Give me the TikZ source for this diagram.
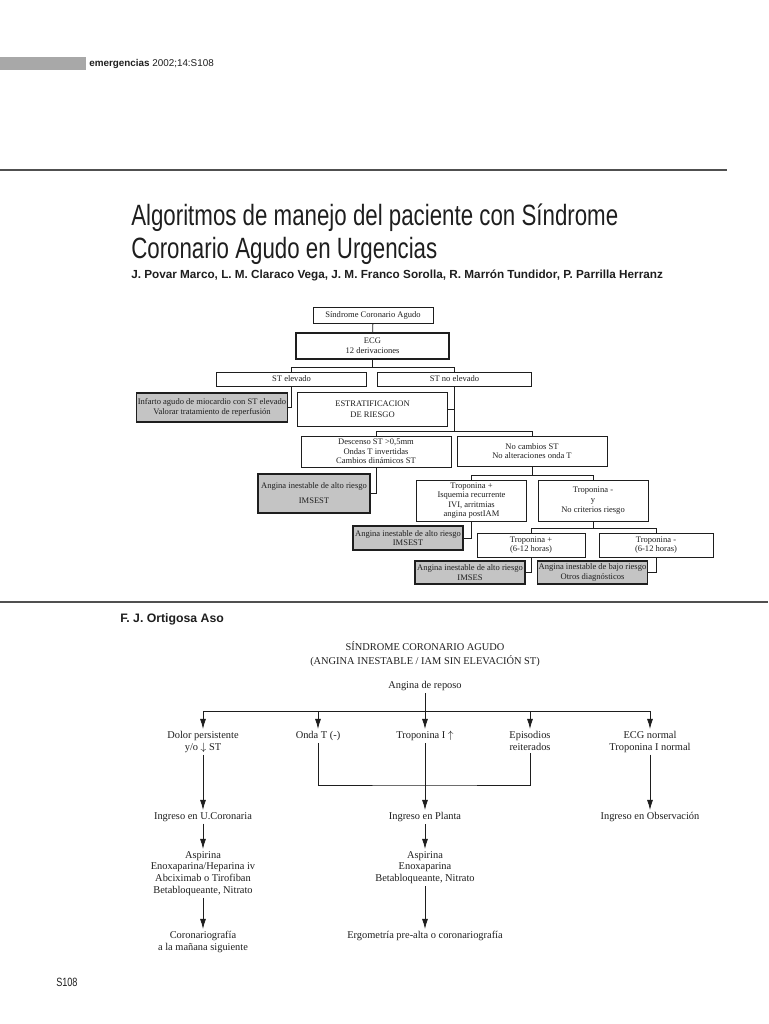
\documentclass[tikz,border=0pt]{standalone}
\usepackage{fontspec}
\setmainfont{Liberation Serif}
\newfontfamily\headsans{Liberation Sans}
\newfontfamily\titlesans[FakeStretch=0.76]{Liberation Sans}
\usetikzlibrary{arrows.meta,positioning,calc}
\definecolor{ink}{HTML}{1E1E1E}
\definecolor{riskgray}{HTML}{C4C4C4}
\definecolor{bargray}{HTML}{A8A8A8}
\definecolor{rulegray}{HTML}{505050}

\begin{document}
\begin{tikzpicture}[x=0.75pt,y=-0.75pt,
  box/.style={draw=ink,fill=white,line width=0.6pt,align=center,inner sep=1pt,
    font=\fontsize{6.4}{7.2}\selectfont,text=ink},
  wide/.style={box,minimum width=112.5pt},
  narrow/.style={box,minimum width=82.5pt},
  risk/.style={line width=1.2pt,fill=riskgray},
  link/.style={draw=ink,line width=0.6pt},
  txt/.style={align=center,inner sep=1.5pt,font=\fontsize{7.8}{8.8}\selectfont,text=ink},
  arrow/.style={-{Latex[length=2.7mm,width=1.6mm]},line width=0.6pt,draw=ink},
  rule/.style={draw=rulegray,line width=1.4pt}
]
\useasboundingbox (0,0) rectangle (768,1024);

\fill[bargray] (0,57) rectangle (86,70);
\node[anchor=base west,inner sep=0pt,font=\headsans\fontsize{7.4}{8}\selectfont,text=ink]
  (journal) at (89,67) {\textbf{emergencias} 2002;14:S108};
\draw[rule] (0,170) -- (727,170);
\node[anchor=base west,inner sep=0pt,font=\titlesans\fontsize{22}{25}\selectfont,text=ink]
  (title1) at (131,225) {Algoritmos de manejo del paciente con Síndrome};
\node[anchor=base west,inner sep=0pt,font=\titlesans\fontsize{22}{25}\selectfont,text=ink]
  (title2) at (131,258) {Coronario Agudo en Urgencias};
\node[anchor=base west,inner sep=0pt,font=\headsans\bfseries\fontsize{8.8}{10}\selectfont,text=ink]
  (authors) at (131,278)
  {J. Povar Marco, L. M. Claraco Vega, J. M. Franco Sorolla, R. Marrón Tundidor, P. Parrilla Herranz};

\node[box,minimum width=90pt,minimum height=12pt] (sca) at (373,315) {Síndrome Coronario Agudo};
\node[wide,minimum width=115pt,minimum height=19.5pt,line width=1.6pt] (ecg) at (372.5,346)
  {ECG\\12 derivaciones};
\node[wide,minimum height=10.5pt] (stel) at (291.5,379) {ST elevado};
\node[wide,minimum width=115pt,minimum height=10.5pt] (stne) at (454.5,379) {ST no elevado};
\node[wide,risk,minimum height=21.75pt] (inf) at (212,407.5)
  {Infarto agudo de miocardio con ST elevado\\Valorar tratamiento de reperfusión};
\node[wide,minimum width=112pt,minimum height=26pt] (estr) at (372.5,409.5)
  {ESTRATIFICACION\\[1pt]DE RIESGO};
\node[wide,minimum height=23.25pt] (desc) at (376,451.5)
  {Descenso ST >0,5mm\\Ondas T invertidas\\Cambios dinámicos ST};
\node[wide,minimum height=22.5pt] (noc) at (532,451) {No cambios ST\\No alteraciones onda T};
\node[narrow,risk,minimum width=84pt,minimum height=29.25pt] (ai1) at (314,493.5)
  {Angina inestable de alto riesgo\\[4pt]IMSEST};
\node[narrow,minimum height=30.75pt] (tpos) at (471.5,500.5)
  {Troponina +\\Isquemia recurrente\\IVI, arritmias\\angina postIAM};
\node[narrow,minimum height=30.75pt] (tneg) at (593,500.5) {Troponina -\\y\\No criterios riesgo};
\node[narrow,risk,minimum height=18pt] (ai2) at (408,538) {Angina inestable de alto riesgo\\IMSEST};
\node[narrow,minimum width=81pt,minimum height=18pt] (tpos6) at (531,545) {Troponina +\\(6-12 horas)};
\node[narrow,minimum width=85.5pt,minimum height=18pt] (tneg6) at (656,545) {Troponina -\\(6-12 horas)};
\node[narrow,risk,minimum height=17.25pt] (ai3) at (470,572.5) {Angina inestable de alto riesgo\\IMSES};
\node[narrow,risk,minimum width=81.75pt,minimum height=17.25pt] (ai4) at (592.5,572.5)
  {Angina inestable de bajo riesgo\\Otros diagnósticos};

\draw[link] (sca) -- (ecg);
\coordinate (busA) at ($(ecg.south)+(0,7)$);
\draw[link] (ecg.south) -- (busA);
\draw[link] (stel.north) |- (busA) -| (stne.north);
\draw[link] (stel.south) |- (inf.east);
\draw[link] (stne.south) |- (estr.east);
\coordinate (busB) at ($(stne.south)+(0,45)$);
\draw[link] (stne.south) -- (busB);
\draw[link] (desc.north) |- (busB) -| (noc.north);
\draw[link] (desc.south) |- (ai1.east);
\coordinate (busC) at ($(noc.south)+(0,9)$);
\draw[link] (noc.south) -- (busC);
\draw[link] (tpos.north) |- (busC) -| (tneg.north);
\draw[link] (tpos.south) |- (ai2.east);
\coordinate (busD) at ($(tneg.south)+(0,7)$);
\draw[link] (tneg.south) -- (busD);
\draw[link] (tpos6.north) |- (busD) -| (tneg6.north);
\draw[link] (tpos6.south) |- (ai3.east);
\draw[link] (tneg6.south) |- (ai4.east);

\draw[rule] (0,602) -- (768,602);
\node[anchor=base west,inner sep=0pt,font=\headsans\bfseries\fontsize{9.2}{10}\selectfont,text=ink]
  (author2) at (120,622) {F. J. Ortigosa Aso};

\node[txt] (t1) at (425,646) {SÍNDROME CORONARIO AGUDO};
\node[txt] (t2) at (425,661) {(ANGINA INESTABLE / IAM SIN ELEVACIÓN ST)};
\node[txt] (rep) at (425,686) {Angina de reposo};
\coordinate (busE) at (425,711);
\draw[link] (rep) -- (busE);

\node[txt,anchor=north] (dol) at (203,729) {Dolor persistente\\y/o $\downarrow$ ST};
\node[txt,anchor=north] (onda) at (318,729) {Onda T (-)};
\node[txt,anchor=north] (trop) at (425,729) {Troponina I $\uparrow$};
\node[txt,anchor=north] (epi) at (530,729) {Episodios\\reiterados};
\node[txt,anchor=north] (ecgn) at (650,729) {ECG normal\\Troponina I normal};
\draw[link] (dol.north |- busE) -- (ecgn.north |- busE);
\foreach \n in {dol,onda,trop,epi,ecgn}
  \draw[arrow] (\n.north |- busE) -- (\n.north);

\coordinate (jn) at (425,785);
\draw[link] (onda.south) |- (jn) -| (epi.south);

\node[txt,anchor=north] (iuc) at (203,810) {Ingreso en U.Coronaria};
\node[txt,anchor=north] (ipl) at (425,810) {Ingreso en Planta};
\node[txt,anchor=north] (iob) at (650,810) {Ingreso en Observación};
\draw[arrow] (dol) -- (iuc);
\draw[arrow] (trop) -- (ipl);
\draw[arrow] (ecgn) -- (iob);

\node[txt,anchor=north] (med1) at (203,849)
  {Aspirina\\Enoxaparina/Heparina iv\\Abciximab o Tirofiban\\Betabloqueante, Nitrato};
\node[txt,anchor=north] (med2) at (425,849) {Aspirina\\Enoxaparina\\Betabloqueante, Nitrato};
\draw[arrow] (iuc) -- (med1);
\draw[arrow] (ipl) -- (med2);

\node[txt,anchor=north] (cor) at (203,929) {Coronariografía\\a la mañana siguiente};
\node[txt,anchor=north] (erg) at (425,929) {Ergometría pre-alta o coronariografía};
\draw[arrow] (med1) -- (cor);
\draw[arrow] (med2) -- (erg);

\node[anchor=base west,inner sep=0pt,font=\titlesans\fontsize{9}{10}\selectfont,text=ink]
  (page) at (56,986) {S108};
\end{tikzpicture}
\end{document}
